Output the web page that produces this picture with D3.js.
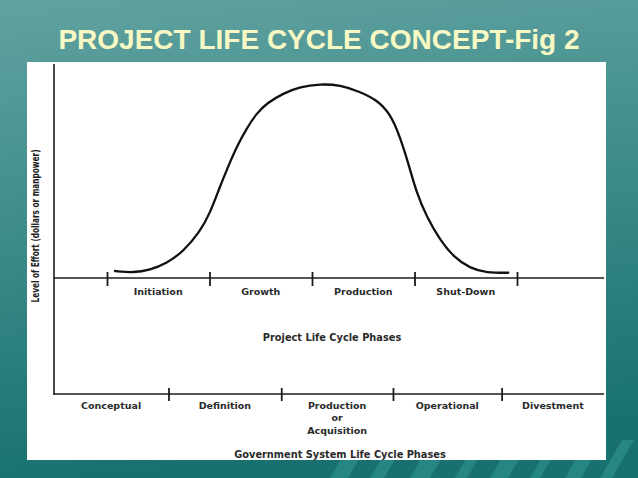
<!DOCTYPE html>
<html><head><meta charset="utf-8">
<script src="https://cdn.jsdelivr.net/npm/d3@7"></script>
<style>html,body{margin:0;padding:0;overflow:hidden;background:#3d8c8a}</style>
</head><body>
<script>
// ---- data ----
const title = "PROJECT LIFE CYCLE CONCEPT-Fig 2";
const yLabel = "Level of Effort (dollars or manpower)";
const projectPhases = ["Initiation", "Growth", "Production", "Shut-Down"];
const projectAxisTitle = "Project Life Cycle Phases";
const govPhases = [["Conceptual"], ["Definition"], ["Production", "or", "Acquisition"], ["Operational"], ["Divestment"]];
const govAxisTitle = "Government System Life Cycle Phases";
// effort curve: x in phase units (0..4), y = effort (0..100)
const curveX = [0.078, 0.257, 0.420, 0.582, 0.744, 0.907, 1.005, 1.102, 1.168, 1.265, 1.363, 1.460, 1.558, 1.720, 1.883, 2.078, 2.273, 2.468, 2.631, 2.761, 2.859, 2.940, 3.021, 3.119, 3.249, 3.379, 3.541, 3.704, 3.915];
const curveY = [3.6, 2.7, 4.1, 7.6, 13.6, 23.9, 33.4, 47.1, 55.7, 67.7, 77.2, 84.9, 90.1, 95.2, 98.6, 100, 99.5, 96.0, 91.8, 84.9, 72.8, 59.1, 43.7, 31.6, 19.6, 11.0, 5.0, 2.7, 2.7];
// government phase boundaries in the same phase units
const govBounds = [-0.52, 0.60, 1.70, 2.79, 3.85, 4.85];

const W = 638, H = 478;
const svg = d3.select("body").append("svg").attr("width", W).attr("height", H);
const defs = svg.append("defs");
const g1 = defs.append("linearGradient").attr("id", "bg").attr("x1", 0).attr("y1", 0).attr("x2", 0.15).attr("y2", 1);
g1.append("stop").attr("offset", 0).attr("stop-color", "#61a2a0");
g1.append("stop").attr("offset", 0.5).attr("stop-color", "#3b8b89");
g1.append("stop").attr("offset", 1).attr("stop-color", "#187170");
svg.append("rect").attr("width", W).attr("height", H).attr("fill", "url(#bg)");

// decorative stripes bottom right
const stripes = svg.append("g").attr("fill", "#36a09d").attr("opacity", 0.45);
[[330, 18], [370, 14], [410, 20], [455, 12], [490, 18], [530, 10], [565, 16], [600, 12]].forEach(([sx, w]) => {
  stripes.append("path").attr("d", `M${sx},478 L${sx + 22},440 L${sx + 22 + w},440 L${sx + w},478 Z`);
});

svg.append("text").attr("x", 319).attr("y", 49).attr("text-anchor", "middle")
  .attr("font-family", "Liberation Sans, Arial, sans-serif").attr("font-weight", "bold")
  .attr("font-size", 28).attr("fill", "#f8f8c4").text(title);

svg.append("rect").attr("x", 27).attr("y", 62).attr("width", 579).attr("height", 398).attr("fill", "#ffffff");

const x = d3.scaleLinear().domain([0, 4]).range([107, 517]);
const y = d3.scaleLinear().domain([0, 100]).range([278, 84]);
const font = "DejaVu Sans, sans-serif";
const ink = "#1c1c1c";

// y axis line
svg.append("line").attr("x1", 54).attr("x2", 54).attr("y1", 64).attr("y2", 395).attr("stroke", ink).attr("stroke-width", 1.6);

// project axis
const ax1 = svg.append("g").attr("transform", `translate(0,${y(0)})`)
  .call(d3.axisBottom(x).tickValues([0, 1, 2, 3, 4]).tickFormat("").tickSizeInner(8).tickSizeOuter(0));
ax1.select(".domain").remove();
ax1.selectAll(".tick line").attr("stroke", ink).attr("stroke-width", 1.8).attr("y1", -6).attr("y2", 8);
svg.append("line").attr("x1", 54).attr("x2", 604).attr("y1", y(0)).attr("y2", y(0)).attr("stroke", ink).attr("stroke-width", 1.3);

svg.append("g").selectAll("text").data(projectPhases).join("text")
  .attr("x", (d, i) => x(i + 0.5)).attr("y", 295).attr("text-anchor", "middle")
  .attr("font-family", font).attr("font-weight", "bold").attr("font-size", 9.5).attr("fill", "#2a2a2a").text(d => d);
svg.append("text").attr("x", 332).attr("y", 341).attr("text-anchor", "middle")
  .attr("font-family", font).attr("font-weight", "bold").attr("font-size", 9.8).attr("fill", "#2a2a2a").text(projectAxisTitle);

// effort curve
const pts = curveX.map((v, i) => [v, curveY[i]]);
svg.append("path").datum(pts).attr("fill", "none").attr("stroke", "#111").attr("stroke-width", 2.3)
  .attr("stroke-linecap", "round")
  .attr("d", d3.line().x(d => x(d[0])).y(d => y(d[1])).curve(d3.curveBasis));

// government axis
const gy = 394;
svg.append("line").attr("x1", 54).attr("x2", 604).attr("y1", gy).attr("y2", gy).attr("stroke", ink).attr("stroke-width", 1.5);
const ax2 = svg.append("g").attr("transform", `translate(0,${gy})`)
  .call(d3.axisBottom(x).tickValues(govBounds.slice(1, 5)).tickFormat("").tickSizeOuter(0));
ax2.select(".domain").remove();
ax2.selectAll(".tick line").attr("stroke", ink).attr("stroke-width", 1.8).attr("y1", -6).attr("y2", 7);

const gl = svg.append("g").selectAll("text").data(govPhases).join("text")
  .attr("text-anchor", "middle").attr("font-family", font).attr("font-weight", "bold").attr("font-size", 9.5).attr("fill", "#2a2a2a");
gl.each(function (d, i) {
  const cx = x((govBounds[i] + govBounds[i + 1]) / 2);
  d3.select(this).selectAll("tspan").data(d).join("tspan")
    .attr("x", cx).attr("y", (t, j) => 408.5 + j * 12.5).text(t => t);
});
svg.append("text").attr("x", 340).attr("y", 458).attr("text-anchor", "middle")
  .attr("font-family", font).attr("font-weight", "bold").attr("font-size", 9.8).attr("fill", "#2a2a2a").text(govAxisTitle);

// y label
svg.append("text").attr("transform", "translate(39,226) rotate(-90)").attr("text-anchor", "middle")
  .attr("font-family", "Liberation Sans Narrow, DejaVu Sans Condensed, sans-serif").attr("font-weight", "bold")
  .attr("font-size", 10.5).attr("textLength", 153).attr("lengthAdjust", "spacingAndGlyphs")
  .attr("fill", ink).text(yLabel);
</script>
</body></html>
